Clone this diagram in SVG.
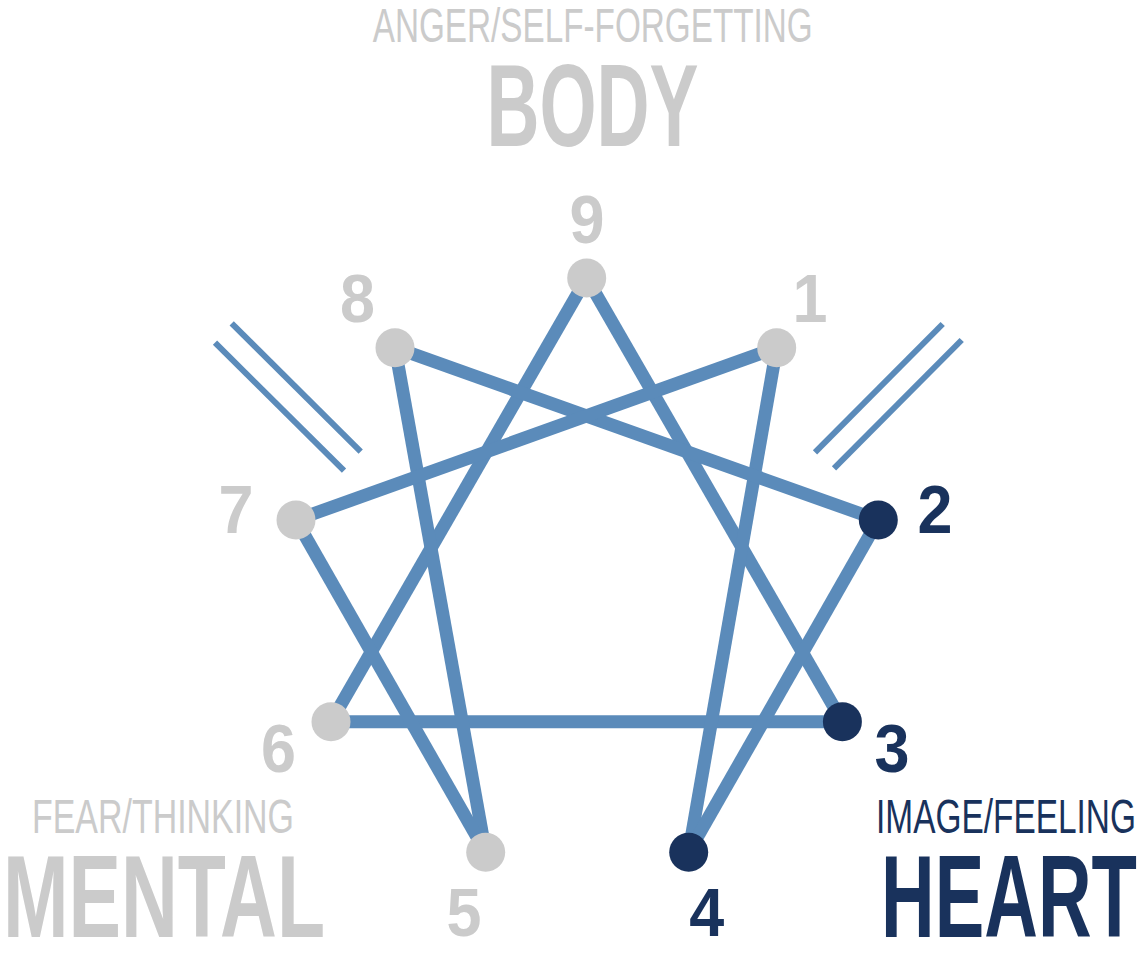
<svg xmlns="http://www.w3.org/2000/svg" width="1140" height="963" viewBox="0 0 1140 963">
<style>
.edge{stroke:#5b8bba;stroke-width:13;fill:none;stroke-linecap:butt}
.tick{stroke:#5b8bba;stroke-width:6;fill:none}
.ng{fill:#cbcbcb}
.nd{fill:#19325c}
.num{font-family:"Liberation Sans",Arial,sans-serif;font-weight:bold;font-size:68px;text-anchor:middle}
.sub{font-family:"Liberation Sans",Arial,sans-serif;font-size:49px;text-anchor:middle}
.big{font-family:"Liberation Sans",Arial,sans-serif;font-weight:bold;font-size:117px;text-anchor:middle}
.g{fill:#cbcbcb}
.d{fill:#19325c}
</style>
<rect width="1140" height="963" fill="#ffffff"/>
<g id="titles">
<text class="sub g" x="592.7" y="42" textLength="440" lengthAdjust="spacingAndGlyphs">ANGER/SELF-FORGETTING</text>
<text class="big g" x="592.5" y="146" textLength="212" lengthAdjust="spacingAndGlyphs">BODY</text>
<text class="sub g" x="163" y="833" textLength="262" lengthAdjust="spacingAndGlyphs">FEAR/THINKING</text>
<text class="big g" x="164" y="937" textLength="322" lengthAdjust="spacingAndGlyphs">MENTAL</text>
<text class="sub d" x="1006" y="833" textLength="260" lengthAdjust="spacingAndGlyphs">IMAGE/FEELING</text>
<text class="big d" x="1009" y="937" textLength="256" lengthAdjust="spacingAndGlyphs">HEART</text>
</g>
<g id="connectors">
<line class="tick" x1="215" y1="342.7" x2="344" y2="470.7"/>
<line class="tick" x1="231.7" y1="323.3" x2="360.7" y2="451.7"/>
<line class="tick" x1="942.7" y1="324" x2="815" y2="452.3"/>
<line class="tick" x1="961.7" y1="340" x2="834" y2="468.3"/>
<line class="edge" x1="586.7" y1="278" x2="842.4" y2="721.7"/>
<line class="edge" x1="586.7" y1="278" x2="331" y2="721.7"/>
<line class="edge" x1="331" y1="721.7" x2="842.4" y2="721.7"/>
<line class="edge" x1="776.7" y1="347.7" x2="688.7" y2="852.3"/>
<line class="edge" x1="688.7" y1="852.3" x2="878.3" y2="520"/>
<line class="edge" x1="878.3" y1="520" x2="395" y2="347.7"/>
<line class="edge" x1="395" y1="347.7" x2="485.7" y2="852.3"/>
<line class="edge" x1="485.7" y1="852.3" x2="296" y2="520"/>
<line class="edge" x1="296" y1="520" x2="776.7" y2="347.7"/>
</g>
<g id="node9"><circle class="ng" cx="586.7" cy="278" r="19.5"/><text class="num g" x="587" y="243" textLength="35" lengthAdjust="spacingAndGlyphs">9</text></g>
<g id="node8"><circle class="ng" cx="395" cy="347.7" r="19.5"/><text class="num g" x="357.5" y="322" textLength="35" lengthAdjust="spacingAndGlyphs">8</text></g>
<g id="node1"><circle class="ng" cx="776.7" cy="347.7" r="19.5"/><text class="num g" x="810" y="322" textLength="35" lengthAdjust="spacingAndGlyphs">1</text></g>
<g id="node7"><circle class="ng" cx="296" cy="520" r="19.5"/><text class="num g" x="236" y="533" textLength="35" lengthAdjust="spacingAndGlyphs">7</text></g>
<g id="node2"><circle class="nd" cx="878.3" cy="520" r="19.5"/><text class="num d" x="935" y="533" textLength="35" lengthAdjust="spacingAndGlyphs">2</text></g>
<g id="node6"><circle class="ng" cx="331" cy="721.7" r="19.5"/><text class="num g" x="278.5" y="772" textLength="35" lengthAdjust="spacingAndGlyphs">6</text></g>
<g id="node3"><circle class="nd" cx="842.4" cy="721.7" r="19.5"/><text class="num d" x="892" y="772" textLength="35" lengthAdjust="spacingAndGlyphs">3</text></g>
<g id="node5"><circle class="ng" cx="485.7" cy="852.3" r="19.5"/><text class="num g" x="464" y="936" textLength="35" lengthAdjust="spacingAndGlyphs">5</text></g>
<g id="node4"><circle class="nd" cx="688.7" cy="852.3" r="19.5"/><text class="num d" x="706.7" y="936" textLength="35" lengthAdjust="spacingAndGlyphs">4</text></g>
</svg>
